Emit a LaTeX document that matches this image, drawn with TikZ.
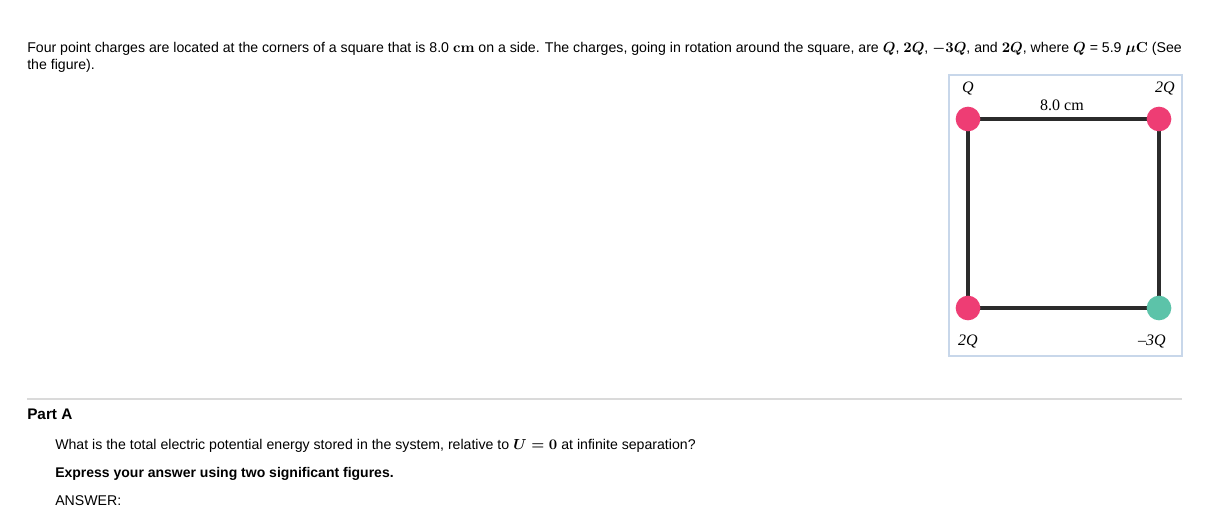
\documentclass[tikz,border=0pt]{standalone}
\usepackage[no-math]{fontspec}
\setmainfont{Liberation Sans}
\newfontfamily\figfont{Liberation Serif}
\definecolor{pinkq}{HTML}{EE3D74}
\definecolor{tealq}{HTML}{5CC3A9}
\definecolor{boxblue}{HTML}{C8D7EA}
\definecolor{rulegray}{HTML}{DADADA}
\definecolor{wire}{HTML}{2B2B2B}
\begin{document}
\begin{tikzpicture}[x=0.75pt,y=-0.75pt,
  txt/.style={anchor=base west,inner sep=0pt,font=\fontsize{10.6pt}{12pt}\selectfont\boldmath},
  charge/.style={circle,inner sep=0pt,minimum size=18.5pt},
  flab/.style={inner sep=0pt,font=\figfont\itshape\fontsize{12pt}{13pt}\selectfont},
  wirestyle/.style={draw=wire,line width=2.6pt}]
\useasboundingbox (0,0) rectangle (1212,518);
% question text
\node[txt] (l1) at (27,52) {Four point charges are located at the corners of a square that is 8.0 $\mathrm{cm}$ on a side. The charges, going in rotation around the square, are $Q$, $2Q$, $-3Q$, and $2Q$, where $Q$ = 5.9 $\mu\mathrm{C}$ (See};
\node[txt] (l2) at (27,69) {the figure).};
% figure frame
\draw[boxblue,line width=0.8pt] (949,75) rectangle (1182,356);
% charges
\coordinate (ctl) at (968,119);
\coordinate (ctr) at (1159,119);
\coordinate (cbl) at (968,308);
\coordinate (cbr) at (1159,308);
\draw[wirestyle] (ctl) -- (ctr) -- (cbr) -- (cbl) -- cycle;
\node[charge,fill=pinkq] (tl) at (ctl) {};
\node[charge,fill=pinkq] (tr) at (ctr) {};
\node[charge,fill=pinkq] (bl) at (cbl) {};
\node[charge,fill=tealq] (br) at (cbr) {};
\node[flab] (qtl) at (968,88) {Q};
\node[flab] (qtr) at (1165,88) {2Q};
\node[flab] (qbl) at (968,341) {2Q};
\node[flab] (qbr) at (1152,341) {\textendash3Q};
\node[inner sep=0pt,font=\figfont\fontsize{12pt}{13pt}\selectfont] (len) at (1062,105) {8.0 cm};
% part A
\draw[rulegray,line width=1.5pt] (27,399) -- (1182,399);
\node[txt,font=\bfseries\fontsize{11.5pt}{12pt}\selectfont] (pa) at (27,419) {Part A};
\node[txt] (qa) at (55,449) {What is the total electric potential energy stored in the system, relative to $U=0$ at infinite separation?};
\node[txt,font=\bfseries\fontsize{10.5pt}{12pt}\selectfont] (ex) at (55,477) {Express your answer using two significant figures.};
\node[txt] (ans) at (55,505) {ANSWER:};
\end{tikzpicture}
\end{document}
